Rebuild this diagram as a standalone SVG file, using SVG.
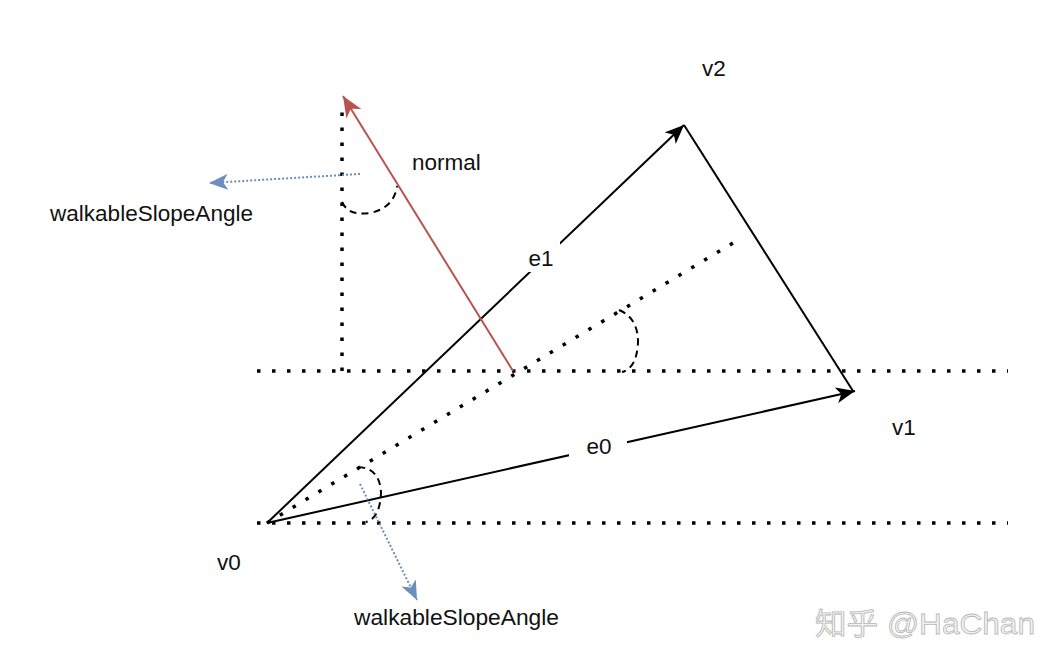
<svg xmlns="http://www.w3.org/2000/svg" width="1064" height="667" viewBox="0 0 1064 667">
<style>
text{font-family:"Liberation Sans",Arial,sans-serif;font-size:22.5px;fill:#111}
.dot{fill:none;stroke:#000;stroke-width:3.5;stroke-dasharray:3.5 11.5}
.dash{fill:none;stroke:#000;stroke-width:2;stroke-dasharray:7 5}
.edge{fill:none;stroke:#000;stroke-width:2}
.bl{fill:none;stroke:#6c8ebf;stroke-width:2;stroke-dasharray:2 2}
.lbl{fill:#fff}
</style>
<defs>
<marker id="ab" markerUnits="userSpaceOnUse" viewBox="0 0 20 16" markerWidth="20" markerHeight="16" refX="19" refY="8" orient="auto">
<path d="M0,0 L19,8 L0,16 L5,8 z" fill="#000"/>
</marker>
<marker id="ar" markerUnits="userSpaceOnUse" viewBox="0 0 22 18" markerWidth="22" markerHeight="18" refX="21" refY="9" orient="auto">
<path d="M0,0 L21,9 L0,18 L6,9 z" fill="#b85450"/>
</marker>
<marker id="au" markerUnits="userSpaceOnUse" viewBox="0 0 20 16" markerWidth="20" markerHeight="16" refX="19" refY="8" orient="auto">
<path d="M0,0 L19,8 L0,16 L5,8 z" fill="#6c8ebf"/>
</marker>
</defs>
<rect width="1064" height="667" fill="#fff"/>
<g id="connectors">
<line class="dot" x1="257" y1="371" x2="1008" y2="371"/>
<line class="dot" x1="257" y1="523" x2="1008" y2="523"/>
<line class="dot" x1="342" y1="371" x2="342" y2="108"/>
<line class="dot" x1="267" y1="523" x2="738" y2="240"/>
<path class="dash" d="M342,202 Q348,216 370,213 Q394,208 397,186"/>
<path class="dash" d="M619,310 Q638,318 638,342 Q637,368 622,372"/>
<path class="dash" d="M358,467 Q380,468 381,493 Q380,518 366,522"/>
<line class="edge" x1="267" y1="523" x2="855" y2="391" marker-end="url(#ab)"/>
<line class="edge" x1="267" y1="523" x2="684" y2="125" marker-end="url(#ab)"/>
<line class="edge" x1="684" y1="125" x2="853" y2="391"/>
<line fill="none" stroke="#b85450" stroke-width="2" x1="513" y1="371" x2="343" y2="96" marker-end="url(#ar)"/>
<line class="bl" x1="360" y1="174" x2="209" y2="183" marker-end="url(#au)"/>
<line class="bl" x1="360" y1="484" x2="417" y2="600" marker-end="url(#au)"/>
</g>
<g id="label-e1"><rect class="lbl" x="524" y="242" width="36" height="30"/><text x="541" y="266" text-anchor="middle">e1</text></g>
<g id="label-e0"><rect class="lbl" x="569" y="434" width="58" height="26"/><text x="599" y="454" text-anchor="middle">e0</text></g>
<g id="node-v0"><text x="217" y="570">v0</text></g>
<g id="node-v1"><text x="892" y="435">v1</text></g>
<g id="node-v2"><text x="702" y="76">v2</text></g>
<g id="label-normal"><text x="412" y="170">normal</text></g>
<g id="label-angle-top"><text x="50" y="221" textLength="203" lengthAdjust="spacingAndGlyphs">walkableSlopeAngle</text></g>
<g id="label-angle-bottom"><text x="354" y="625" textLength="205" lengthAdjust="spacingAndGlyphs">walkableSlopeAngle</text></g>
<g id="watermark"><text x="815" y="634" textLength="220" lengthAdjust="spacingAndGlyphs" style="font-family:'Liberation Sans','Noto Sans CJK SC',sans-serif;font-size:30px;fill:#f2f2f2;stroke:#b8b8b8;stroke-width:0.8">知乎 @HaChan</text></g>
</svg>
